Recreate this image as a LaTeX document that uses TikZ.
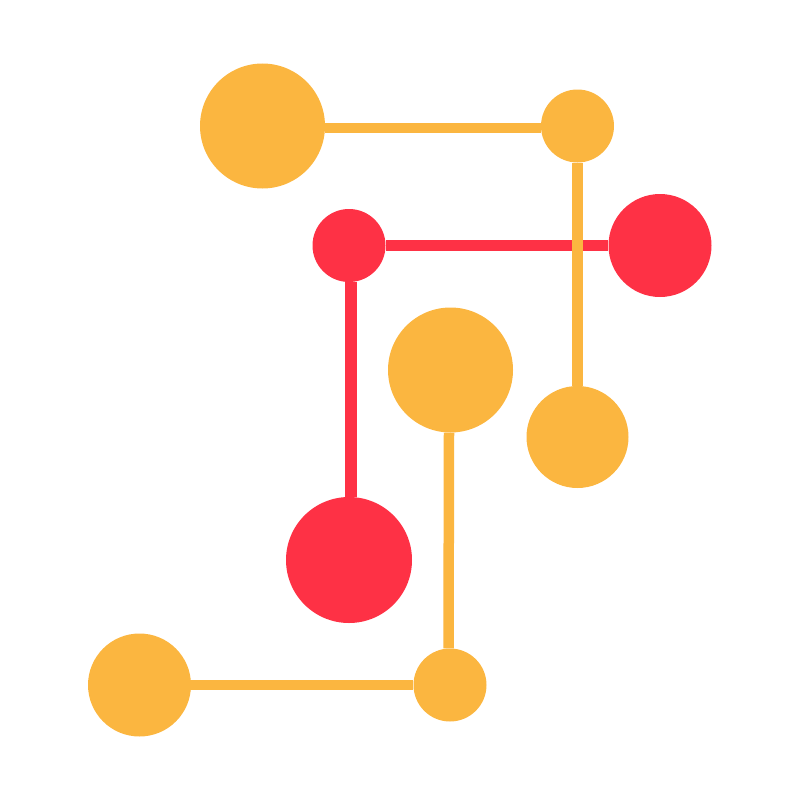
\documentclass[tikz,border=0pt]{standalone}
\definecolor{corange}{RGB}{251,182,64}
\definecolor{cred}{RGB}{254,49,69}
\begin{document}
\begin{tikzpicture}[x=1pt,y=-1pt,
  dot/.style={circle,inner sep=0pt,draw=none},
  ylw/.style={dot,fill=corange},
  rd/.style={dot,fill=cred},
  yline/.style={draw=corange,line width=10.5pt},
  rline/.style={draw=cred,line width=11.5pt}]
\useasboundingbox (0,0) rectangle (800,800);
\node[ylw,minimum size=125pt] (a) at (262.5,126) {};
\node[ylw,minimum size=73pt] (b) at (577.5,126) {};
\node[rd,minimum size=73pt] (c) at (349,245.5) {};
\node[rd,minimum size=103pt] (d) at (660,245.5) {};
\node[ylw,minimum size=125pt] (e) at (450.5,370) {};
\node[ylw,minimum size=102pt] (f) at (577.5,437) {};
\node[rd,minimum size=126pt] (g) at (349,560) {};
\node[ylw,minimum size=103pt] (h) at (139.5,685) {};
\node[ylw,minimum size=73pt] (i) at (450,685) {};
\draw[rline] (c) -- (d);
\draw[rline] ([xshift=2pt]c.south) -- ([xshift=2pt]g.north);
\draw[yline] ([yshift=-2pt]a.east) -- ([yshift=-2pt]b.west);
\draw[yline] (b) -- (f);
\draw[yline] ([xshift=-1.5pt]e.south) -- ([xshift=-1.5pt]i.north);
\draw[yline] (h) -- (i);
\end{tikzpicture}
\end{document}
